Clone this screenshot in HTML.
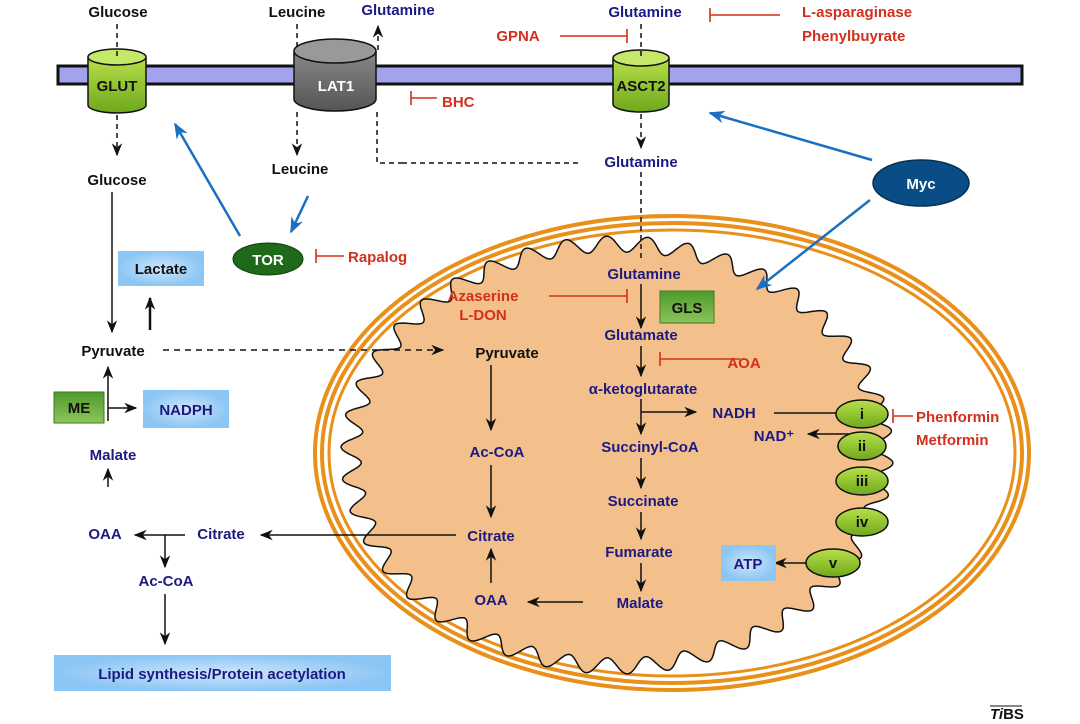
<!DOCTYPE html>
<html><head><meta charset="utf-8">
<style>
html,body{margin:0;padding:0;background:#fff;}
svg{display:block;}
text{font-family:"Liberation Sans",Arial,sans-serif;font-weight:bold;font-size:15px;}
.k{fill:#111;} .b{fill:#1c1a80;} .r{fill:#d2301c;}
</style></head>
<body>
<svg id="s" width="1080" height="724" viewBox="0 0 1080 724" xmlns="http://www.w3.org/2000/svg">
<defs>
<marker id="a" viewBox="0 0 10 10" refX="9" refY="5" markerWidth="13" markerHeight="13" orient="auto-start-reverse" markerUnits="userSpaceOnUse"><path d="M0,1 L10,5 L0,9 L3,5z" fill="#111"/></marker>
<marker id="ab" viewBox="0 0 10 10" refX="9" refY="5" markerWidth="16" markerHeight="16" orient="auto" markerUnits="userSpaceOnUse"><path d="M0,1 L10,5 L0,9 L3,5z" fill="#1a6fc0"/></marker>
<linearGradient id="g" x1="0" y1="0" x2="0" y2="1"><stop offset="0" stop-color="#b8e04a"/><stop offset="1" stop-color="#6fa81c"/></linearGradient>
<linearGradient id="gg" x1="0" y1="0" x2="0" y2="1"><stop offset="0" stop-color="#4e9a2c"/><stop offset="1" stop-color="#8dc45a"/></linearGradient>
<linearGradient id="gr" x1="0" y1="0" x2="0" y2="1"><stop offset="0" stop-color="#888"/><stop offset="1" stop-color="#555"/></linearGradient>
<radialGradient id="bx"><stop offset="0" stop-color="#cfe6fb"/><stop offset="1" stop-color="#8cc6f4"/></radialGradient>
</defs>

<rect x="58" y="66" width="964" height="18" fill="#a3a2ee" stroke="#111" stroke-width="3"/>

<ellipse cx="672" cy="453" rx="357" ry="237" fill="none" stroke="#e8901a" stroke-width="4"/>
<ellipse cx="672" cy="453" rx="350" ry="230" fill="none" stroke="#e8901a" stroke-width="4"/>
<ellipse cx="672" cy="453" rx="343" ry="223" fill="#fff" stroke="#e8901a" stroke-width="3"/>
<path id="inner" fill="#f3c08c" stroke="#111" stroke-width="1.5"/>

<g stroke="#111" stroke-width="1.5">
<path d="M88,57 v48 a29,8 0 0 0 58,0 v-48" fill="url(#g)"/>
<ellipse cx="117" cy="57" rx="29" ry="8" fill="#c6e86a"/>
<path d="M294,51 v48 a41,12 0 0 0 82,0 v-48" fill="url(#gr)"/>
<ellipse cx="335" cy="51" rx="41" ry="12" fill="#999"/>
<path d="M613,58 v46 a28,8 0 0 0 56,0 v-46" fill="url(#g)"/>
<ellipse cx="641" cy="58" rx="28" ry="8" fill="#c6e86a"/>
</g>
<text x="117" y="91" text-anchor="middle" class="k" font-size="14">GLUT</text>
<text x="336" y="91" text-anchor="middle" fill="#fff" font-size="15">LAT1</text>
<text x="641" y="91" text-anchor="middle" class="k" font-size="13">ASCT2</text>

<text x="118" y="17" text-anchor="middle" class="k">Glucose</text>
<text x="297" y="17" text-anchor="middle" class="k">Leucine</text>
<text x="398" y="15" text-anchor="middle" class="b">Glutamine</text>
<text x="645" y="17" text-anchor="middle" class="b">Glutamine</text>
<text x="518" y="41" text-anchor="middle" class="r">GPNA</text>
<text x="802" y="17" class="r">L-asparaginase</text>
<text x="802" y="41" class="r">Phenylbuyrate</text>
<text x="442" y="107" class="r">BHC</text>

<g stroke="#111" stroke-width="1.5" fill="none">
<path d="M117,24 v33" stroke-dasharray="5,4"/>
<path d="M297,24 v27" stroke-dasharray="5,4"/>
<path d="M378,50 v-24" stroke-dasharray="5,4" marker-end="url(#a)"/>
<path d="M641,24 v34" stroke-dasharray="5,4"/>
<path d="M117,115 v40" stroke-dasharray="5,4" marker-end="url(#a)"/>
<path d="M297,112 v43" stroke-dasharray="5,4" marker-end="url(#a)"/>
<path d="M377,112 v51 h25" stroke-dasharray="5,4"/>
<path d="M402,163 h180" stroke-dasharray="5,4"/>
<path d="M641,114 v34" stroke-dasharray="5,4" marker-end="url(#a)"/>
<path d="M641,172 v90" stroke-dasharray="5,4"/>
<path d="M163,350 h280" stroke-dasharray="6,5" marker-end="url(#a)"/>
</g>
<g stroke="#d2301c" stroke-width="1.6">
<path d="M560,36 h67 M627,29 v14"/>
<path d="M710,15 h70 M710,8 v14"/>
<path d="M411,98 h26 M411,91 v14"/>
<path d="M316,256 h28 M316,249 v14"/>
<path d="M549,296 h78 M627,289 v14"/>
<path d="M660,359 h80 M660,352 v14"/>
<path d="M893,416 h20 M893,409 v14"/>
</g>

<text x="117" y="185" text-anchor="middle" class="k">Glucose</text>
<text x="300" y="174" text-anchor="middle" class="k">Leucine</text>
<text x="641" y="167" text-anchor="middle" class="b">Glutamine</text>

<ellipse cx="921" cy="183" rx="48" ry="23" fill="#0a4d86" stroke="#063150" stroke-width="1.5"/>
<text x="921" y="189" text-anchor="middle" fill="#fff" font-size="15">Myc</text>
<ellipse cx="268" cy="259" rx="35" ry="16" fill="#1f6a1a" stroke="#0d3a0b"/>
<text x="268" y="265" text-anchor="middle" fill="#fff" font-size="15">TOR</text>
<text x="348" y="262" class="r">Rapalog</text>
<g stroke="#1a6fc0" stroke-width="2.5" fill="none">
<path d="M240,236 L175,124" marker-end="url(#ab)"/>
<path d="M308,196 L291,232" marker-end="url(#ab)"/>
<path d="M872,160 L710,113" marker-end="url(#ab)"/>
<path d="M870,200 L757,289" marker-end="url(#ab)"/>
</g>

<rect x="118" y="251" width="86" height="35" fill="url(#bx)"/>
<text x="161" y="274" text-anchor="middle" class="k">Lactate</text>
<rect x="143" y="390" width="86" height="38" fill="url(#bx)"/>
<text x="186" y="415" text-anchor="middle" class="b">NADPH</text>
<rect x="54" y="392" width="50" height="31" fill="url(#gg)" stroke="#3f7a1e"/>
<text x="79" y="413" text-anchor="middle" class="k">ME</text>
<rect x="54" y="655" width="337" height="36" fill="url(#bx)"/>
<text x="222" y="679" text-anchor="middle" class="b">Lipid synthesis/Protein acetylation</text>
<text x="113" y="356" text-anchor="middle" class="k">Pyruvate</text>
<text x="113" y="460" text-anchor="middle" class="b">Malate</text>
<text x="105" y="539" text-anchor="middle" class="b">OAA</text>
<text x="221" y="539" text-anchor="middle" class="b">Citrate</text>
<text x="166" y="586" text-anchor="middle" class="b">Ac-CoA</text>
<g stroke="#111" stroke-width="1.5" fill="none">
<path d="M112,192 v140" marker-end="url(#a)"/>
<path d="M150,330 v-32" stroke-width="2.5" marker-end="url(#a)"/>
<path d="M108,421 v-54" marker-end="url(#a)"/>
<path d="M108,408 h28" marker-end="url(#a)"/>
<path d="M108,487 v-18" marker-end="url(#a)"/>
<path d="M185,535 h-50" marker-end="url(#a)"/>
<path d="M165,535 v32" marker-end="url(#a)"/>
<path d="M165,594 v50" marker-end="url(#a)"/>
<path d="M456,535 h-195" marker-end="url(#a)"/>
</g>

<text x="483" y="301" text-anchor="middle" class="r">Azaserine</text>
<text x="483" y="320" text-anchor="middle" class="r">L-DON</text>
<rect x="660" y="291" width="54" height="32" fill="url(#gg)" stroke="#3f7a1e"/>
<text x="687" y="313" text-anchor="middle" class="k">GLS</text>
<text x="644" y="279" text-anchor="middle" class="b">Glutamine</text>
<text x="641" y="340" text-anchor="middle" class="b">Glutamate</text>
<text x="643" y="394" text-anchor="middle" class="b">α-ketoglutarate</text>
<text x="650" y="452" text-anchor="middle" class="b">Succinyl-CoA</text>
<text x="643" y="506" text-anchor="middle" class="b">Succinate</text>
<text x="639" y="557" text-anchor="middle" class="b">Fumarate</text>
<text x="640" y="608" text-anchor="middle" class="b">Malate</text>
<text x="507" y="358" text-anchor="middle" class="k">Pyruvate</text>
<text x="497" y="457" text-anchor="middle" class="b">Ac-CoA</text>
<text x="491" y="541" text-anchor="middle" class="b">Citrate</text>
<text x="491" y="605" text-anchor="middle" class="b">OAA</text>
<text x="744" y="368" text-anchor="middle" class="r">AOA</text>
<text x="734" y="418" text-anchor="middle" class="b">NADH</text>
<text x="774" y="441" text-anchor="middle" class="b">NAD⁺</text>
<text x="916" y="422" class="r">Phenformin</text>
<text x="916" y="445" class="r">Metformin</text>
<g stroke="#111" stroke-width="1.5" fill="none">
<path d="M641,284 v44" marker-end="url(#a)"/>
<path d="M641,346 v30" marker-end="url(#a)"/>
<path d="M641,399 v35" marker-end="url(#a)"/>
<path d="M641,412 h55" marker-end="url(#a)"/>
<path d="M641,458 v30" marker-end="url(#a)"/>
<path d="M641,512 v27" marker-end="url(#a)"/>
<path d="M641,563 v28" marker-end="url(#a)"/>
<path d="M583,602 h-55" marker-end="url(#a)"/>
<path d="M491,583 v-34" marker-end="url(#a)"/>
<path d="M491,365 v65" marker-end="url(#a)"/>
<path d="M491,465 v52" marker-end="url(#a)"/>
<path d="M774,413 h82" marker-end="url(#a)"/>
<path d="M866,434 h-58" marker-end="url(#a)"/>
<path d="M820,563 h-45" marker-end="url(#a)"/>
</g>
<g stroke="#111" stroke-width="1.5" fill="url(#g)">
<ellipse cx="862" cy="414" rx="26" ry="14"/>
<ellipse cx="862" cy="446" rx="24" ry="14"/>
<ellipse cx="862" cy="481" rx="26" ry="14"/>
<ellipse cx="862" cy="522" rx="26" ry="14"/>
<ellipse cx="833" cy="563" rx="27" ry="14"/>
</g>
<text x="862" y="419" text-anchor="middle" font-size="14" class="k">i</text>
<text x="862" y="451" text-anchor="middle" font-size="14" class="k">ii</text>
<text x="862" y="486" text-anchor="middle" font-size="14" class="k">iii</text>
<text x="862" y="527" text-anchor="middle" font-size="14" class="k">iv</text>
<text x="833" y="568" text-anchor="middle" font-size="14" class="k">v</text>
<rect x="721" y="545" width="55" height="36" fill="url(#bx)"/>
<text x="748" y="569" text-anchor="middle" class="b">ATP</text>

<line x1="990" y1="706" x2="1022" y2="706" stroke="#111"/>
<text x="990" y="719" font-weight="normal" font-size="12" class="k"><tspan font-style="italic">Ti</tspan>BS</text>
</svg>
<script>
(function(){
 var cx=617,cy=455,rx=266,ry=211,n=42,amp=8,d="";
 for(var i=0;i<=1600;i++){
  var t=i/1600*2*Math.PI;
  var w=Math.sin(t*n);
  var r=1+amp*w/Math.min(rx,ry);
  var x=cx+rx*Math.cos(t)*r, y=cy+ry*Math.sin(t)*r;
  d+=(i?"L":"M")+x.toFixed(1)+","+y.toFixed(1);
 }
 var p=document.getElementById("inner");
 p.setAttribute("d",d+"Z");
 var s=document.getElementById("s");
 s.insertBefore(p, s.querySelector("g"));
})();
</script>
</body></html>
